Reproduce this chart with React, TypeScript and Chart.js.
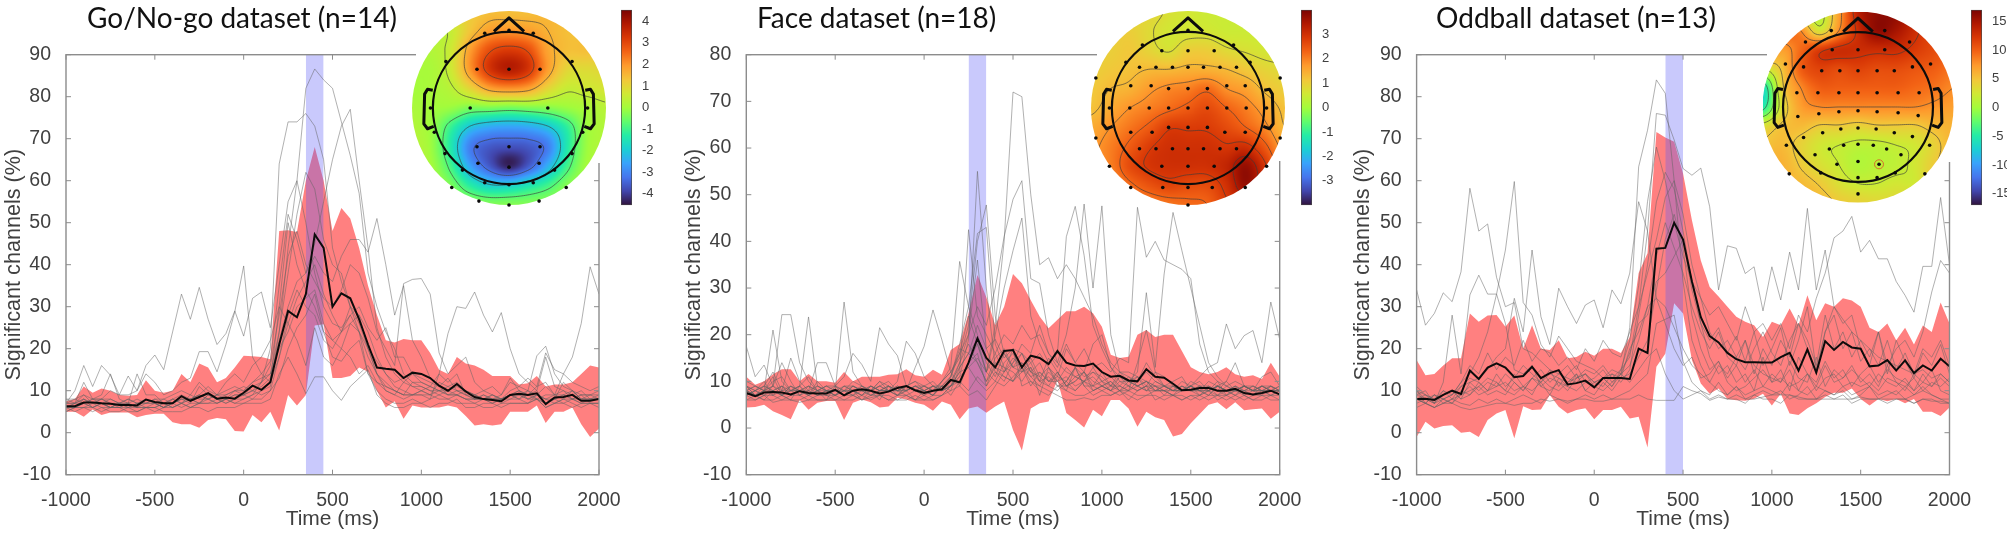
import { useEffect, useRef } from 'react'
import { Chart, registerables } from 'chart.js'

Chart.register(...registerables)

const TIME = [-1000,-950,-900,-850,-800,-750,-700,-650,-600,-550,-500,-450,-400,-350,-300,-250,-200,-150,-100,-50,0,50,100,150,200,250,300,350,400,450,500,550,600,650,700,750,800,850,900,950,1000,1050,1100,1150,1200,1250,1300,1350,1400,1450,1500,1550,1600,1650,1700,1750,1800,1850,1900,1950,2000]

const GO_MEAN = [6.3,6.3,7.2,7.2,7,6.9,6.6,6.6,6.5,7.9,7.3,7,7,8.7,7.6,8.5,9.4,8.1,8.4,8.1,9.5,11.2,10.2,12,21,29,27.5,33,47.2,44,30,33.2,32,27,21,15.5,15.2,15,13,14.3,14,13,11.2,10,11.6,9.8,8.5,8,7.8,7.5,9,9.3,9,9.4,6.8,8.4,8.5,9,7.6,7.6,8]
const GO_UPPER = [7.5,8,11,9.5,10.5,10,9,8.8,9,12.5,10,9.5,10,14,12,16.5,15.5,12,13,15.5,18.3,18.2,18,17.5,48,48.2,47.8,60,68,60,48,53.5,51,44,35,28,22,21.5,22.3,22,22,19,15,14,18,16.5,16,15,13.5,13.5,13.5,11.5,11.8,13.5,11,11.5,11.5,12,14,16,15.5]
const GO_LOWER = [5,5,3.8,5.5,4.2,4.8,4.8,4.8,3.7,4.2,4.5,4.5,2.5,2,2,1.2,3,3.5,3.2,0.4,0.3,4.2,2.5,5,0.5,9,6.5,9,25.5,25.8,13,13,13.5,15.5,14.5,10,6,7.5,3.3,6.5,6,6,6,6.5,6,4,1.7,2,1.7,2,5,5,5,6.5,2.3,5,5,6,2,-1,1]
const GO_SUBJECTS = [
  [7,8,9,8,8,7,7,8,7,8,7,8,7,8,8,9,8,9,10,11,10,12,13,14,24,44,60,82,86.6,84,82,74,66,57,38,30,24,20,14,12,12,11,10,10,9,8,8,9,8,8,9,9,10,8,9,9,9,10,8,8,8],
  [6,7,9,7,7,6,7,6,7,6,6,7,6,7,6,7,8,7,8,7,8,9,12,20,64,74,74,76,73,65,44,36,30,26,20,14,11,10,9,9,9,9,8,8,9,8,7,8,7,8,8,9,8,8,7,8,7,8,7,7,7],
  [6,6,8,6,7,6,7,7,6,6,7,6,7,8,7,7,9,8,8,9,9,10,11,13,22,30,36,38,45,55,65,73,77,60,44,25,18,14,12,11,11,10,10,9,9,8,8,8,9,8,9,9,8,9,8,8,9,8,7,8,8],
  [7,7,8,7,8,7,6,7,8,7,7,6,7,8,8,7,9,8,9,10,10,12,14,17,35,52,46,38,42,38,36,42,46,46,43,51,40,28,35,22,18,13,11,13,10,10,9,8,8,8,9,10,9,8,7,8,9,8,8,8,8],
  [8,8,7,8,8,10,9,9,10,16,18.5,15,24,33,27,34.6,27,21,23.6,29,23,32,33.5,25,40,55,60,50,38,30,26,25,28,30,25,22,25,18,18,14,12,11,10,9,9,10,9,8,9,8,10,11,10,9,11,9,10,8,9,9,9],
  [7,10,16,11,16,13.7,9,13.5,10,14,12,9,10,12,13,19.3,19.3,14.5,21,28.8,39.7,18,14,12,30,50,40,34,30,24,22,24,26,24,14,12,10,9,12,14,13,12,11,9,10,9,8,9,8,8,9,8,7,9,8,7,8,8,9,7,7],
  [8,7,12,8,9,14,8,7,14,9,9,7,8,9,8,9,11,9,8,10,9,11,12,16,28,42,48,40,36,32,30,34,40,38,32,24,20,16,35.5,36.5,36.7,33,19,14,16,18,12,10,9,8,9,10,8,9,8,9,8,10,8,8,9],
  [6,7,7,8,7,8,7,8,7,7,8,7,8,7,9,8,8,9,9,10,11,10,12,14,20,24,30,32,34,26,22,20,26,28,24,18,14,11,10,9,9,8,14,23.6,30,29.6,33.5,28,24,28.6,20,14,12,10,18,11,10,9,10,8,8],
  [5,6,7,6,7,6,6,7,6,6,6,7,6,7,8,7,7,8,7,8,8,9,10,12,18,28,34,30,28,22,20,24,30,28,20,14,10,9,8,9,10,9,12,11,12,10,9,10,11,9,12,11,13,11,19,15,14,18,26,39.5,33],
  [6,5,6,6,5,6,6,5,5,6,6,5,5,5,6,6,5,6,6,6,7,7,7,8,14,18,14,9.3,13.3,13.3,10,7.7,11,13,15,9,7,6,6,7,7,6,7,7,8,6,6,7,7,6,7,7,7,8,6,7,7,6,7,7,6],
  [6,6,7,6,7,6,6,6,7,7,7,6,8,7,8,9,8,7,8,9,9,10,9,10,18,26,32,36,40,33,28,24,28,24,18,14,12,10,9,9,10,9,10,11,10,9,9,8,8,7,8,8,10,18.3,20.6,14,11,10,9,9,8],
  [7,7,8,7,8,8,7,7,6,7,8,8,9,10,9,12,10,9,12,14,12,16,18,22,30,26,22,16,25,18,16,20,18,14,16,12,11,10,9,12,11,10,9,10,11,10,8,8,8,9,13,10,9,11,12,9,14,12,11,10,11],
  [6,6,6,7,6,6,7,6,6,8,7,6,7,6,7,11,9,8,7,8,9,8,10,11,24,38,52,62,58,46,40,38,30,24,20,17,14,12,13,11,10,11,14,12,14,9,8,8,7,8,9,8,9,10,7,8,12,10,8,9,10],
  [5,6,6,5,6,5,5,6,5,6,5,6,6,7,6,7,7,7,8,7,7,8,8,10,13,20,25,28,33,24,18,17,20,22,14,10,8,7,7,8,7,8,9,8,7,7,7,6,6,7,7,7,7,8,6,7,8,7,6,7,7],
]

const FACE_MEAN = [7.5,6.8,7.6,7.7,7.6,7.2,7.9,7.5,7.4,7.4,8.2,7,8,8.3,8,7.4,7.8,8.6,9,8.1,7.5,8,8.3,10.3,9.8,14,19.2,15,13,16.5,16.7,13,15.5,15,13.7,16.5,14,13.4,13.3,13.8,12,11,11.2,10.2,10,12.6,11,10.8,9.5,8.1,8.2,8.6,8.6,8,8,8.4,7.5,7.2,7.5,8,7.2]
const FACE_UPPER = [11,9.3,10,11.5,12.6,12.6,10,11.6,10,10,9.7,12,10,11,11,11,11.4,11.5,12.6,11.3,11,12.5,11.4,16.7,18,24.6,32.8,28,22,26,33,31,27.4,23.9,21.4,23.2,25,25,26,24.6,21.7,15.7,15,15.3,20,21,19.5,20,20,16.5,13,12,11.5,12,13,11.5,11,11.3,10.5,14,11]
const FACE_LOWER = [4.4,4.5,5,3.6,2.8,1.9,6,3.9,5.4,5.8,5.8,1.7,5.4,6.1,5.5,4.4,4.6,6.5,6.1,5.4,5,3.7,5.7,5,1.9,4.2,4.6,3.3,4.6,5.7,-0.4,-4.8,4.2,5.3,5.7,10.3,3.2,1.7,0.1,3.9,2.5,6,6,4.2,0.3,3.5,2.3,1.7,-1.8,-1.3,1,3,5,5.5,4,5.5,3.8,4,4.2,2,3.5]
const FACE_SUBJECTS = [
  [8,7,9,8,9,7,8,7,8,9,8,7,9,8,7,8,8,9,8,9,8,7,10,12,9,14,18,12,22,40,72,71,50,35,36.5,32,35,32,28,24,18,14,12,12,11,10,9,9,8,8,9,8,8,9,8,7,8,8,9,8,8],
  [9,8,10,7,8,9,8,9,8,7,7,8,9,8,8,10,8,7,9,8,7,9,8,10,14,20,26,22,30,41,49,53,32,31,20,14,12,11,10,13,10,9,9,8,9,10,8,8,7,8,9,8,7,9,8,8,9,8,8,7,8],
  [8,9,8,11,7,8,9,7,10,8,7,9,8,7,8,9,10,8,8,9,9,8,9,11,16,24,18,12,20,30,38,45,24,18,14,16,41,47.5,37,22,17,13,11,10,9,10,9,8,8,9,8,8,9,7,8,9,8,7,8,8,8],
  [9,7,8,9,14,10,7,8,9,8,9,8,8,9,7,8,9,8,9,8,9,10,8,9,12,42.5,24,20,16,12,14,18,16,22,16,14,20,30,48,30,47.6,20,12,11,10,12,10,9,8,8,9,8,8,9,8,9,8,9,8,8,7],
  [7,8,7,9,8,8,7,9,8,7,8,8,7,8,9,8,8,8,9,8,8,9,8,9,11,13,15,12,16,20,18,22,19,20,16,13,18,14,17,13,14,12,15,14,47.3,36.6,40,36,35,34,32,18,12,10,9,8,9,8,8,9,8],
  [8,7,8,7,9,8,8,7,8,8,8,7,9,8,8,7,8,8,9,8,7,8,8,10,13,16,22,17,19,15,17,16,14,16,13,11,17,14,12,18,20,13,10,10,12,29,13,33,46.2,38,30,22,14,11,9,10,9,8,9,8,8],
  [17.5,11,13.5,9,24.3,24.3,14,10,8,9,9,8,10,9,8,10,9,8,9,10,8,7,9,9,14,18,14,10,13,12,15,13,11,9,12,10,11,9,10,9,12,9,8,10,9,8,9,8,7,9,8,9,8,7,9,8,8,9,8,7,8],
  [10,9,8,21,10,8,9,23.8,9,8,8,27,12,9,8,9,8,9,8,9,8,9,8,11,17,16,19,12,10,14,16,12,15,11,13,9,10,13,11,12,10,11,9,8,10,14,11,9,8,9,8,9,9,8,7,8,9,8,9,8,8],
  [9,8,9,12,8,15,10,8,14,14,9,11,16,13.6,10,21.5,18,15.5,9,10,9,8,10,13,35.7,26,20,14,11,16,13,12,14,10,11,9,9,11,10,8,9,8,10,9,11,8,8,9,8,8,9,10,8,9,8,7,9,9,8,8,9],
  [8,9,8,10,11,8,9,11,8,9,8,9,9,8,9,8,8,10,18.6,16,11,9,8,9,11,19,55,30,13,11,10,13,9,12,10,11,10,13,9,9,10,8,9,11,9,8,10,9,10,11,8,8,7,9,8,8,9,8,9,8,9],
  [7,8,7,8,9,7,8,9,7,8,7,8,7,9,8,9,8,7,8,13,17.5,25.3,18.9,12,15,22,40,47.8,24,16,13,16,12,14,10,10,13,11,12,10,9,10,8,9,8,9,8,8,9,8,8,7,9,8,10,8,8,7,9,9,8],
  [7,8,9,8,7,9,8,8,7,8,7,9,8,8,7,8,9,8,7,8,8,9,9,11,18,26,41.7,43,18,13,10,14,12,11,9,12,9,10,12,9,8,9,11,9,8,9,9,7,9,8,9,8,10,9,8,8,9,8,8,9,8],
  [8,7,8,9,7,8,8,7,9,8,8,7,8,7,9,8,9,8,8,9,8,7,9,8,13,16,14,10,15,17,13,14,11,12,10,12,9,10,12,8,9,8,11,10,9,10,8,9,8,10,9,11,13,14,22.3,17,19.8,20.9,14,27,19],
  [8,7,8,8,7,9,7,8,7,8,7,8,8,7,9,8,8,7,9,8,9,8,10,12,16,20,36,17,12,11,10,12,13,10,9,8,10,8,10,11,9,10,8,8,14,21,12,11,9,8,10,9,8,9,10,14,9,8,11,12,9],
  [7,6,7,7,6,7,7,6,7,7,6,7,7,6,7,7,6,7,7,6,7,6,7,8,9,7,8,6,9,12,17,9,10,9,8,7,6,6,6.5,6,7,7,8,7,6,7,7,6,7,6,7,6,7,7,6,7,6,7,7,6,6],
  [6,7,6,6,7,6,6,7,6,6,7,6,6,7,6,7,7,6,6,7,6,7,7,9,12,13,10,8,10,9,11,13,10,8,7,9,8,7,7,8,9,8,7,8,7,7,8,8,7,7,6,7,8,6,7,8,7,6,7,7,7],
  [9,7,6,8,7,6,9,7,8,6,9,7,8,6,8,6,9,7,8,6,8,7,9,7,10,8,11,9,12,10,14,16,12,10,15,12,9,8,10,12,11,9,12,10,11,9,12,9,9,8,9,7,8,10,7,9,7,8,7,9,7],
  [6,6,7,5.5,6,6,5.5,6,6,6,6,6,7,6,6.5,7,6,6,7,6,6,6,7,9,10,14,16,9,14,13,12,10,13,7,13,10,8,13,9,7,8,7,8,6,8,9,6,7,7,6,7,7,6,7,7,6,7,6,6,7,6],
]

const ODD_MEAN = [8,8.1,7.8,9,10,9.2,14.8,12.8,15.5,16.5,15.5,13.2,13.5,15.7,13,14.2,14.9,11.5,11.8,12.4,10.8,13,13,13,12.8,20,19,43.8,44,50,46,36,27.5,23,21.5,19,17.5,16.8,16.8,16.7,16.7,18,19,14.8,19.8,14.3,21.8,19.7,21.6,20.3,20,15.8,16,17.3,14.8,17.2,14.2,16,14.8,17.6,15.8]
const ODD_UPPER = [17.3,13.7,14,16,17.7,17.7,28.4,26.4,27.9,28,25.2,27.9,20,25.6,20,19.7,22,17.7,18,19.3,18.3,20,20,19,22.8,38,42.7,71.6,70.3,69.3,61.7,50.6,41,34.7,32.4,30,27.6,26.4,25.6,22.8,26.4,25.6,29.6,25.6,32.7,26.8,30.8,30,32,31.5,30,25,24,26,22,25,21,25.5,24,31,26]
const ODD_LOWER = [-1,2.6,1,1.6,1.8,0,0.2,-1,3,4.6,5.4,-1.3,6.3,5.4,5.5,9,6.2,4.6,5.4,5.8,3.2,5.4,5.4,6.2,3.4,3.8,-3.5,15.7,18.8,30.8,28.4,17.3,11.7,9.3,10.5,8,7.7,7.6,8.1,9.3,6.5,9.3,4.6,4.2,5.8,7,8.5,9.5,9.5,10.5,8,6.5,8,7.5,8,7,8,5,5,4,6]
const ODD_SUBJECTS = [
  [34,25.6,28.4,33.3,31.2,38.3,58.2,48,49.7,37,30,31,20,19,17,15,14,16,13,14,12,13,11,14,12,15,18,20,14,10,8,9,10,8,9,8,8,7,9,8,8,7,9,8,8,8,8,8,9,7,8,8,8,7,8,8,7,8,8,7,7],
  [10,7,9,8,9,12,14,18,24,33,43.5,59.8,31,28,21,18,23,20,17,16,15,13,14,13,20,24,30,32,30,25,20,16,14,12,16,14,18,22,16,14,13,12,15,10,14,11,16,12,13,15,13,11,14,12,11,13,10,12,11,14,12],
  [9,8,7,10,8,11,12,13,15,18,20,32,24,43.5,27.6,21,34.4,30,26,30.4,31.6,25,34,30.7,38,55,48,32,26,20,16,18,13,14,17,12,10,11,13,15,12,13,11,12,14,10,13,14,11,12,11,12,10,13,12,11,13,10,12,11,13],
  [8,7,6,8,7,9,11,9,10,12,10,9,11,10,12,9,13,11,10,12,11,10,12,14,25,63.3,72,84,80.8,60,36,22,16,12,10,9,11,8,9,10,9,10,8,9,11,8,10,9,10,8,9,11,8,9,10,8,9,11,9,8,7],
  [7,8,9,7,8,9,10,11,9,10,9,12,10,13,11,10,12,11,14,10,12,13,11,15,18,30,48,76,75.6,69.7,62.9,61.3,63,53.8,34,44.5,43.9,37.9,39.5,29,39.5,31.6,43,34,53.4,34,43.5,30,27,24,22,20,18,17,16,15,14,15,13,14,12],
  [10,9,8,9,10,8,9,12,10,11,12,10,11,13,12,14,13,12,13,15,14,16,13,15,22,35,55,68,60,50,42,36,32,28,30,26,22,30,24,26,22,26,20,28,24,32,38,46.4,48,51.5,43,45.8,41.4,41.4,36,32.7,28.7,39.6,39.6,56,40],
  [8,7,6,7,7,6,5.5,6,6.5,7,7,6.5,7,7,8,7.5,8,7.5,8,8,7.5,7.5,8,8,8,9,8,7.7,7.7,7.7,11,10,9.3,7.7,8.5,8,9,8,8,8.5,9,9,9,8.5,8,8,9,8,8,8,8.5,8,8,8,8,8,7,8,7.5,7.5,7],
  [9,10,7,12,28,14,32.8,37.5,33,33,26,15,14,16,11,13,12,10,13,14,12,11,14,12,15,28,40,55,62,58,48,36,26,18,14,16,12,14,10,18,12,15,10,18,14,12,17,13,15,11,14,16,12,15,13,12,10,14,11,13,11],
  [8,9,7,8,9,11,13,12,10,14,11,13,16,14,12,15,11,14,16,12,13,15,12,14,16,22,30,42,50,44,38,30,24,20,24,18,16,22,14,20,16,22,18,26,22,16,28,20,24,18,22,18,24,16,20,22,18,24,33.5,41,38],
  [10,8,7,9,10,8,12,10,12,11,14,12,10,13,15,12,14,13,12,14,11,13,15,14,19,26,28,36,38,42,46,34,26,22,25,19,23,17,24,16,20,25,16,22,30,15,24,28,20,24,17,20,16,22,15,19,14,20,18,22,16],
  [8,7,9,8,7,10,9,11,13,12,10,14,11,9,13,11,10,12,14,10,9,12,10,13,14,18,22,34,46,52,44,28,20,15,17,13,16,12,15,11,14,12,17,13,12,18,11,15,13,16,12,14,11,16,12,10,14,12,15,10,9],
  [6,7,6,7,8,7,6.5,8,7,8,7,8,9,8,7,9,8,7,8,9,8,9,8,9,10,12,14,26,27,28,17,12,10,9,12,9,11,9,10,11,10,9,12,10,9,11,10,9,11,9,10,11,9,10,9,11,9,10,9,8,8],
  [11,9,8,10,9,12,16,14,19,15,18,16,22,17,20,19,16,18,15,20,17,22,19,18,24,30,38,46,56,60,52,40,32,24,20,22,18,15,20,24,19,16,22,26,20,14,24,30,26,28,20,16,24,14,22,17,13,19,16,21,14],
]

// scalp maps: rows run front to back, columns left to right, in colour bar units
const GO_FIELD = [
  [1,1,1,1.2,1.4,1.4,1.4,1.5,1.5,1.4,1.3],
  [0.3,0.3,0.5,1.3,1.9,2,1.9,1.6,1.4,1.3,1.3],
  [0.2,0.2,0.6,1.9,2.9,3.2,2.9,1.8,1.4,1.4,1.3],
  [0.1,0.1,0.6,2,3.3,3.8,3.3,1.9,1,0.9,1],
  [0,0.1,0.3,1,1.8,2,1.8,1,0.5,0.6,0.7],
  [0.1,0,-0.1,-0.4,-0.4,-0.5,-0.4,-0.3,-0.1,0.1,0.3],
  [0.2,-0.1,-1.1,-2.1,-2.5,-2.6,-2.5,-2.1,-1.2,-0.1,0.2],
  [0.3,-0.1,-1.4,-3.1,-3.6,-3.7,-3.6,-3.1,-1.4,-0.1,0.2],
  [0.3,0,-1,-2.6,-3.6,-4.3,-3.6,-2.4,-1,0,0.2],
  [0.3,0.1,-0.4,-1.3,-1.9,-1.9,-1.5,-1,-0.3,0.1,0.2],
  [0.3,0.3,0,-0.2,-0.3,-0.3,-0.3,-0.2,0,0.2,0.3],
]
const FACE_FIELD = [
  [0.8,0.8,0.8,0.9,0.7,0.6,0.5,0.5,0.5,0.5,0.5],
  [1,1,1,0.8,0.6,0.6,0.6,0.5,0.5,0.5,0.5],
  [1,1,1.1,0.9,0.7,1,1,0.8,0.7,0.6,0.6],
  [1,1.1,1.2,1.3,1.3,1.4,1.4,1.3,1.1,0.9,0.8],
  [1.1,1.3,1.4,1.7,1.9,2,2.2,1.8,1.6,1.2,1],
  [1.2,1.5,1.8,2,2.2,2.4,2.6,2.3,2,1.6,1.2],
  [1.5,1.8,2.1,2.4,2.8,2.8,2.8,2.6,2.3,1.9,1.3],
  [1.7,2,2.4,2.8,3,3,3,2.9,3,2.4,1.6],
  [1.7,2,2.6,2.9,3,3,3,3.2,3.7,2.9,1.8],
  [1.8,1.8,2.2,2.5,2.7,2.6,2.6,3,3.7,3,2],
  [1.8,1.8,1.9,2,2.1,2.2,2.3,2.8,3,2.8,2],
]
const ODD_FIELD = [
  [9,9,3,1,7,14,16,16,14,11,10],
  [10,10,8,3,8,13,16,15,13,11,10],
  [9,7,9.5,12,13,13,13,13,12,11,10],
  [2,5,10,11.5,11,11.5,11,11,10.5,10,9],
  [-6,4,8,10,10,10,10,10,9.5,9,8],
  [-5,3,7,8,8,8,8,8,8,7.5,7],
  [3,5,5.5,4.5,4.5,4,4.5,4.5,4.5,5.5,6],
  [5,5.5,4,2.5,2,1.5,1.5,2,2.5,4,6],
  [6,6,4.5,3,2,0.8,1.2,1.5,2.5,4.5,6],
  [6,6,5.5,4.5,3,2,2,2.5,2.5,5,6],
  [6,6,6,5.5,4.5,4,3.5,3.5,4,5,6],
]

const GO_LEVELS = [-3.3,-2,-0.8,0.4,1.6,3]
const FACE_LEVELS = [0.75,1.3,1.8,2.3,2.85,3.4]
const ODD_LEVELS = [-4,-1,2,4.7,8,12.5]

const GO_ELECTRODES = [[-0.33,0.4],[0,0.4],[0.32,0.4],[-0.4,0],[0.4,0],[-0.33,-0.4],[0,-0.4],[0.32,-0.4],[-0.32,-0.57],[0,-0.61],[0.31,-0.57],[-0.59,-0.82],[0.59,-0.82],[-0.31,-0.96],[0,-1],[0.31,-0.96],[-0.25,0.77],[0,0.8],[0.25,0.77],[-0.65,0.48],[0.65,0.48],[-0.81,0],[0.81,0],[-0.77,-0.25],[0.76,-0.25],[-0.66,-0.47],[0.65,-0.47],[-0.48,-0.64],[0.47,-0.64],[-0.25,-0.77],[0.25,-0.77],[0,-0.79]]
const FACE_ELECTRODES = [[0,-1],[-0.59,-0.82],[-0.26,-0.82],[0,-0.82],[0.25,-0.82],[0.59,-0.82],[-0.81,-0.6],[-0.27,-0.6],[0,-0.6],[0.27,-0.6],[0.81,-0.6],[-0.5,-0.42],[-0.33,-0.42],[-0.16,-0.42],[0,-0.42],[0.16,-0.42],[0.33,-0.42],[0.5,-0.42],[-0.95,-0.31],[0.95,-0.31],[-0.59,-0.25],[-0.37,-0.25],[0.38,-0.25],[0.59,-0.25],[-0.2,-0.2],[0,-0.2],[0.2,-0.2],[-0.81,0],[-0.6,0],[-0.4,0],[-0.2,0],[0,0],[0.2,0],[0.4,0],[0.6,0],[0.81,0],[-0.2,0.2],[0,0.2],[0.2,0.2],[-0.59,0.23],[-0.38,0.23],[0.4,0.23],[0.59,0.23],[-0.95,0.31],[0.95,0.31],[-0.5,0.42],[-0.33,0.42],[-0.16,0.42],[0,0.42],[0.16,0.42],[0.33,0.42],[0.5,0.42],[-0.64,0.47],[0.64,0.47],[-0.27,0.59],[0,0.59],[0.27,0.59],[-0.47,0.65],[0.47,0.65],[0,0.8]]
const ODD_ELECTRODES = [[-0.28,0.8],[0.28,0.8],[-0.55,0.68],[0.54,0.68],[-0.27,0.6],[0,0.6],[0.28,0.6],[-0.76,0.45],[0.76,0.45],[-0.57,0.42],[0.57,0.42],[-0.38,0.38],[-0.19,0.38],[0,0.38],[0.2,0.38],[0.38,0.38],[-0.64,0.15],[-0.42,0.15],[-0.2,0.15],[0,0.15],[0.2,0.15],[0.42,0.15],[0.64,0.15],[-0.63,-0.1],[-0.41,-0.07],[-0.2,-0.05],[0,-0.04],[0.2,-0.05],[0.42,-0.06],[0.63,-0.09],[-0.57,-0.32],[-0.37,-0.27],[-0.18,-0.23],[0,-0.22],[0.19,-0.23],[0.38,-0.27],[0.57,-0.31],[-0.75,-0.4],[-0.3,-0.44],[-0.15,-0.4],[0,-0.39],[0.16,-0.4],[0.3,-0.44],[0.75,-0.4],[-0.45,-0.5],[-0.22,-0.6],[0,-0.57],[0.22,-0.6],[0.45,-0.5],[-0.72,-0.7],[-0.39,-0.69],[0,-0.74],[0.2,-0.74],[0.39,-0.69],[0.7,-0.7],[0,-0.91]]
const ODD_MARKED = [[0.22,-0.6]]

const HEAD_RADIUS = 0.785
const NOSE_X = [-0.155,0,0.155]
const NOSE_Y = [0.79,0.93,0.79]
const EAR_X = [0.786,0.84,0.87,0.878,0.84,0.776]
const EAR_Y = [0.184,0.194,0.143,-0.163,-0.214,-0.19]

const TURBO = ['#30123b','#4145ab','#4675ed','#39a2fc','#1bcfd4','#24eca6','#61fc6c','#a4fc3b','#d1e834','#f3c63a','#fe9b2d','#f36315','#d93806','#b11901','#7a0402']

function hexRgb(h: string) {
  return [parseInt(h.slice(1, 3), 16), parseInt(h.slice(3, 5), 16), parseInt(h.slice(5, 7), 16)]
}
const TURBO_RGB = TURBO.map(hexRgb)

function colorAt(f: number) {
  const p = Math.max(0, Math.min(0.9999, f)) * (TURBO_RGB.length - 1)
  const i = Math.floor(p)
  const k = p - i
  const a = TURBO_RGB[i]
  const b = TURBO_RGB[i + 1]
  return [a[0] + (b[0] - a[0]) * k, a[1] + (b[1] - a[1]) * k, a[2] + (b[2] - a[2]) * k]
}

function cubic(p0: number, p1: number, p2: number, p3: number, t: number) {
  return p1 + 0.5 * t * (p2 - p0 + t * (2 * p0 - 5 * p1 + 4 * p2 - p3 + t * (3 * (p1 - p2) + p3 - p0)))
}

// smooth the small hand-read grid up to one value per pixel
function upsample(grid: number[][], size: number) {
  const n = grid.length - 1
  const out = new Float32Array(size * size)
  const at = (r: number, c: number) => grid[Math.max(0, Math.min(n, r))][Math.max(0, Math.min(n, c))]
  for (let j = 0; j < size; j++) {
    const gy = (j / (size - 1)) * n
    const r = Math.min(n - 1, Math.floor(gy))
    const ty = gy - r
    for (let i = 0; i < size; i++) {
      const gx = (i / (size - 1)) * n
      const c = Math.min(n - 1, Math.floor(gx))
      const tx = gx - c
      const rows = [r - 1, r, r + 1, r + 2].map(q => cubic(at(q, c - 1), at(q, c), at(q, c + 1), at(q, c + 2), tx))
      out[j * size + i] = cubic(rows[0], rows[1], rows[2], rows[3], ty)
    }
  }
  return out
}

function contourSegments(field: Float32Array, size: number, level: number, step: number) {
  const segs: number[][] = []
  const v = (x: number, y: number) => field[y * size + x]
  for (let y = 0; y + step < size; y += step) {
    for (let x = 0; x + step < size; x += step) {
      const a = v(x, y), b = v(x + step, y), c = v(x + step, y + step), d = v(x, y + step)
      const pts: number[][] = []
      if ((a < level) !== (b < level)) pts.push([x + step * (level - a) / (b - a), y])
      if ((b < level) !== (c < level)) pts.push([x + step, y + step * (level - b) / (c - b)])
      if ((d < level) !== (c < level)) pts.push([x + step * (level - d) / (c - d), y + step])
      if ((a < level) !== (d < level)) pts.push([x, y + step * (level - a) / (d - a)])
      if (pts.length >= 2) segs.push([...pts[0], ...pts[1]])
      if (pts.length === 4) segs.push([...pts[2], ...pts[3]])
    }
  }
  return segs
}

function scalpPlugin(grid: number[][], range: number, levels: number[]) {
  return {
    id: 'scalp',
    beforeDatasetsDraw(chart: any) {
      const { ctx, scales: { x, y } } = chart
      const size = 196
      const field = upsample(grid, size)
      const off = document.createElement('canvas')
      off.width = size
      off.height = size
      const octx = off.getContext('2d')!
      const img = octx.createImageData(size, size)
      for (let i = 0; i < field.length; i++) {
        const rgb = colorAt((field[i] + range) / (2 * range))
        img.data[i * 4] = rgb[0]
        img.data[i * 4 + 1] = rgb[1]
        img.data[i * 4 + 2] = rgb[2]
        img.data[i * 4 + 3] = 255
      }
      octx.putImageData(img, 0, 0)

      const cx = x.getPixelForValue(0)
      const cy = y.getPixelForValue(0)
      const r = x.getPixelForValue(1) - cx
      ctx.save()
      ctx.beginPath()
      ctx.arc(cx, cy, r, 0, Math.PI * 2)
      ctx.clip()
      ctx.drawImage(off, cx - r, cy - r, r * 2, r * 2)
      ctx.strokeStyle = 'rgba(60,60,60,0.65)'
      ctx.lineWidth = 1
      const k = (r * 2) / (size - 1)
      levels.forEach(level => {
        ctx.beginPath()
        contourSegments(field, size, level, 2).forEach(s => {
          ctx.moveTo(cx - r + s[0] * k, cy - r + s[1] * k)
          ctx.lineTo(cx - r + s[2] * k, cy - r + s[3] * k)
        })
        ctx.stroke()
      })
      ctx.restore()

      ctx.save()
      ctx.strokeStyle = '#0c0c0c'
      ctx.lineJoin = 'round'
      ctx.lineWidth = 2.2
      ctx.beginPath()
      ctx.arc(cx, cy, HEAD_RADIUS * r, 0, Math.PI * 2)
      ctx.stroke()
      ctx.lineWidth = 3
      ctx.beginPath()
      NOSE_X.forEach((v, i) => ctx.lineTo(x.getPixelForValue(v), y.getPixelForValue(NOSE_Y[i])))
      ctx.stroke()
      ;[1, -1].forEach(side => {
        ctx.beginPath()
        EAR_X.forEach((v, i) => ctx.lineTo(x.getPixelForValue(v * side), y.getPixelForValue(EAR_Y[i])))
        ctx.stroke()
      })
      ctx.restore()
    },
  }
}

function ScalpMap({ grid, range, levels, electrodes, marked, cx, cy }: any) {
  const ref = useRef<HTMLCanvasElement>(null)
  useEffect(() => {
    if (!ref.current) return
    const datasets: any[] = [{
      type: 'scatter',
      data: electrodes.map((e: number[]) => ({ x: e[0], y: e[1] })),
      backgroundColor: '#0a0a0a',
      pointRadius: 1.8,
      borderWidth: 0,
      clip: false,
    }]
    if (marked) {
      datasets.push({
        type: 'scatter',
        data: marked.map((e: number[]) => ({ x: e[0], y: e[1] })),
        backgroundColor: 'transparent',
        borderColor: '#d8702a',
        pointRadius: 4.5,
        borderWidth: 1,
        clip: false,
      })
    }
    const chart = new Chart(ref.current, {
      type: 'scatter',
      data: { datasets },
      options: {
        animation: false,
        responsive: false,
        layout: { padding: 3 },
        plugins: { legend: { display: false }, tooltip: { enabled: false } },
        scales: {
          x: { type: 'linear', min: -1, max: 1, display: false },
          y: { type: 'linear', min: -1, max: 1, display: false },
        },
      },
      plugins: [scalpPlugin(grid, range, levels)],
    } as any)
    return () => chart.destroy()
  }, [grid, range, levels, electrodes, marked])
  return <canvas ref={ref} width={202} height={202} style={{ position: 'absolute', left: cx - 101, top: cy - 101 }} />
}

function ColorBar({ range, ticks, left }: any) {
  const ref = useRef<HTMLCanvasElement>(null)
  useEffect(() => {
    if (!ref.current) return
    const chart = new Chart(ref.current, {
      type: 'bar',
      data: {
        labels: [''],
        datasets: [{
          data: [[-range, range]],
          borderColor: '#4a4a4a',
          borderWidth: 1,
          borderSkipped: false,
          barPercentage: 1,
          categoryPercentage: 1,
          backgroundColor: (c: any) => {
            const area = c.chart.chartArea
            if (!area) return TURBO[7]
            const g = c.chart.ctx.createLinearGradient(0, area.bottom, 0, area.top)
            TURBO.forEach((col, i) => g.addColorStop(i / (TURBO.length - 1), col))
            return g
          },
        }],
      },
      options: {
        animation: false,
        responsive: false,
        layout: { padding: { top: 2, bottom: 2, left: 0, right: 0 } },
        plugins: { legend: { display: false }, tooltip: { enabled: false } },
        scales: {
          x: { display: false },
          y: {
            position: 'right',
            min: -range,
            max: range,
            afterBuildTicks: (s: any) => { s.ticks = ticks.map((v: number) => ({ value: v })) },
            afterFit: (s: any) => { s.width = 49 },
            grid: { display: false },
            border: { display: false },
            ticks: { color: '#404040', padding: 2, autoSkip: false, font: { family: 'Liberation Sans', size: 13 } },
          },
        },
      },
    } as any)
    return () => chart.destroy()
  }, [range, ticks])
  return <canvas ref={ref} width={60} height={215} style={{ position: 'absolute', left, top: 0 }} />
}

const AXIS_COLOR = '#8c8c8c'

const boxAxes = {
  id: 'boxAxes',
  afterDatasetsDraw(chart: any) {
    const { ctx, chartArea: a, scales: { x, y } } = chart
    ctx.save()
    ctx.strokeStyle = AXIS_COLOR
    ctx.lineWidth = 1.4
    ctx.strokeRect(a.left, a.top, a.right - a.left, a.bottom - a.top)
    ctx.lineWidth = 1
    ctx.beginPath()
    x.ticks.forEach((t: any) => {
      const px = x.getPixelForValue(t.value)
      ctx.moveTo(px, a.bottom)
      ctx.lineTo(px, a.bottom - 5)
      ctx.moveTo(px, a.top)
      ctx.lineTo(px, a.top + 5)
    })
    y.ticks.forEach((t: any) => {
      const py = y.getPixelForValue(t.value)
      ctx.moveTo(a.left, py)
      ctx.lineTo(a.left + 5, py)
      ctx.moveTo(a.right, py)
      ctx.lineTo(a.right - 5, py)
    })
    ctx.stroke()
    ctx.restore()
  },
}

function toPoints(values: number[]) {
  return values.map((v, i) => ({ x: TIME[i], y: v }))
}

const FONT = 'Liberation Sans'

function TimeCourse({ panel }: { panel: any }) {
  const ref = useRef<HTMLCanvasElement>(null)
  useEffect(() => {
    if (!ref.current) return
    const { mean, upper, lower, subjects, yMax, windowStart, windowEnd, left, plotLeft, plotRight, canvasWidth } = panel
    const chart = new Chart(ref.current, {
      type: 'line',
      data: {
        datasets: [
          { data: toPoints(upper), borderWidth: 0, pointRadius: 0, backgroundColor: 'rgb(255,128,128)', fill: '+1', order: 5 },
          { data: toPoints(lower), borderWidth: 0, pointRadius: 0, fill: false, order: 5 },
          {
            data: [{ x: windowStart, y: yMax }, { x: windowEnd, y: yMax }],
            borderWidth: 0,
            pointRadius: 0,
            backgroundColor: 'rgba(90,90,245,0.33)',
            fill: 'start',
            order: 4,
          },
          ...subjects.map((s: number[]) => ({
            data: toPoints(s),
            borderColor: 'rgba(100,100,100,0.5)',
            borderWidth: 1,
            pointRadius: 0,
            fill: false,
            order: 3,
          })),
          { data: toPoints(mean), borderColor: '#0c0c0c', borderWidth: 2, pointRadius: 0, fill: false, order: 1 },
        ],
      },
      options: {
        animation: false,
        responsive: false,
        layout: { padding: { left: 1.4, right: canvasWidth - (plotRight - left), top: 54.7, bottom: 0 } },
        plugins: { legend: { display: false }, tooltip: { enabled: false } },
        scales: {
          x: {
            type: 'linear',
            min: -1000,
            max: 2000,
            afterFit: (s: any) => { s.height = 58.3 },
            grid: { display: false },
            border: { display: false },
            ticks: { stepSize: 500, color: '#404040', padding: 6, maxRotation: 0, callback: (v: any) => String(v), font: { family: FONT, size: 19.5 } },
            title: { display: true, text: 'Time (ms)', color: '#404040', padding: { top: 0, bottom: 1 }, font: { family: FONT, size: 21 } },
          },
          y: {
            min: -10,
            max: yMax,
            afterFit: (s: any) => { s.width = plotLeft - left - 1.4 },
            grid: { display: false },
            border: { display: false },
            ticks: { stepSize: 10, color: '#404040', padding: 7, font: { family: FONT, size: 19.5 } },
            title: { display: true, text: 'Significant channels (%)', color: '#404040', padding: 0, font: { family: FONT, size: 21.6 } },
          },
        },
      },
      plugins: [boxAxes],
    } as any)
    return () => chart.destroy()
  }, [panel])
  return <canvas ref={ref} width={panel.canvasWidth} height={533} style={{ position: 'absolute', left: panel.left, top: 0 }} />
}

const PANELS = [
  {
    title: 'Go/No-go dataset (n=14)', titleLeft: 87,
    mean: GO_MEAN, upper: GO_UPPER, lower: GO_LOWER, subjects: GO_SUBJECTS, yMax: 90, windowStart: 350, windowEnd: 450,
    left: 0, canvasWidth: 650, plotLeft: 66, plotRight: 599, maskLeft: 416, maskBottom: 163,
    grid: GO_FIELD, range: 4.53, levels: GO_LEVELS, electrodes: GO_ELECTRODES, cx: 508.7, cy: 107.5, barLeft: 621, barTicks: [-4,-3,-2,-1,0,1,2,3,4],
  },
  {
    title: 'Face dataset (n=18)', titleLeft: 757,
    mean: FACE_MEAN, upper: FACE_UPPER, lower: FACE_LOWER, subjects: FACE_SUBJECTS, yMax: 80, windowStart: 250, windowEnd: 350,
    left: 680, canvasWidth: 650, plotLeft: 746.3, plotRight: 1279.7, maskLeft: 1097, maskBottom: 161,
    grid: FACE_FIELD, range: 4, levels: FACE_LEVELS, electrodes: FACE_ELECTRODES, cx: 1188, cy: 107.5, barLeft: 1301, barTicks: [-3,-2,-1,0,1,2,3],
  },
  {
    title: 'Oddball dataset (n=13)', titleLeft: 1436,
    mean: ODD_MEAN, upper: ODD_UPPER, lower: ODD_LOWER, subjects: ODD_SUBJECTS, yMax: 90, windowStart: 400, windowEnd: 500,
    left: 1349, canvasWidth: 650, plotLeft: 1416.6, plotRight: 1949.5, maskLeft: 1767, maskBottom: 162,
    grid: ODD_FIELD, range: 17, levels: ODD_LEVELS, electrodes: ODD_ELECTRODES, marked: ODD_MARKED, cx: 1858, cy: 107, barLeft: 1971, barTicks: [-15,-10,-5,0,5,10,15],
  },
]

export default function App() {
  useEffect(() => { document.body.style.margin = '0' }, [])
  return (
    <div style={{ position: 'absolute', left: 0, top: 0, width: 2007, height: 533, overflow: 'hidden', background: '#fff', filter: 'blur(0.5px)' }}>
      {PANELS.map(p => (
        <div key={p.title}>
          <TimeCourse panel={p} />
          <div style={{ position: 'absolute', left: p.maskLeft, top: 40, width: p.plotRight + 4 - p.maskLeft, height: p.maskBottom - 40, background: '#fff' }} />
          <ScalpMap grid={p.grid} range={p.range} levels={p.levels} electrodes={p.electrodes} marked={p.marked} cx={p.cx} cy={p.cy} />
          <ColorBar range={p.range} ticks={p.barTicks} left={p.barLeft} />
          <div style={{ position: 'absolute', left: p.titleLeft, top: 0, fontFamily: 'Lato', fontSize: 28, color: '#111', whiteSpace: 'nowrap' }}>{p.title}</div>
        </div>
      ))}
    </div>
  )
}
